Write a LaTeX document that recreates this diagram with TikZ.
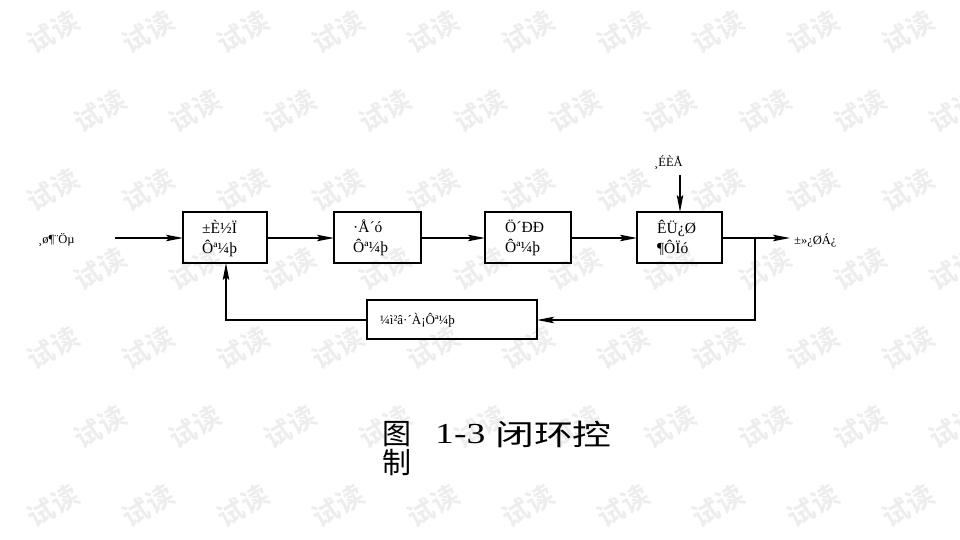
\documentclass[tikz,border=0pt]{standalone}
\usepackage{fontspec}
\setmainfont{Liberation Serif}
\newfontfamily\cjk{Noto Sans CJK SC}
\newfontfamily\cjkb{Noto Sans CJK SC Bold}
\usetikzlibrary{arrows.meta}
\tikzset{
  blk/.style={draw, line width=1.1pt, minimum height=51pt, inner sep=0pt, outer sep=0pt},
  lbl/.style={font=\fontsize{12.5}{15}\selectfont, align=left, inner sep=0pt, anchor=west},
  blbl/.style={font=\fontsize{15.5}{20}\selectfont, align=left, inner sep=0pt, anchor=west},
  wire/.style={line width=1.1pt},
  arr/.style={wire, -{Stealth[length=17pt,width=6.5pt,inset=3pt]}},
  wm/.style={font=\cjkb\fontsize{27}{27}\selectfont, text=black!7, rotate=30, inner sep=0pt},
  captxt/.style={anchor=west, inner sep=0pt, font=\fontsize{29}{29}\selectfont}
}
\begin{document}
\begin{tikzpicture}[x=1pt,y=-1pt]
\useasboundingbox (0,0) rectangle (960,540);
\fill[white] (0,0) rectangle (960,540);
% watermarks
\foreach \r in {0,2,4,6}{
  \foreach \c in {0,...,9}{
    \node[wm] (w\r\c) at ({53+95*\c},{32+79*\r}) {试读};
  }
}
\foreach \r in {1,3,5}{
  \foreach \c in {0,...,9}{
    \node[wm] (w\r\c) at ({100+95*\c},{32+79*\r}) {试读};
  }
}
% blocks
\node[blk, minimum width=84pt, anchor=north west] (b1) at (183,212) {};
\node[blk, minimum width=87pt, anchor=north west] (b2) at (334,212) {};
\node[blk, minimum width=86pt, anchor=north west] (b3) at (485,212) {};
\node[blk, minimum width=85pt, anchor=north west] (b4) at (637,212) {};
\node[blk, minimum width=170pt, minimum height=39pt, anchor=north west] (fb) at (367,300) {};
% block texts
\node[blbl] (t1) at (202,238) {±È½Ï\\Ôª¼þ};
\node[blbl] (t2) at (353,238) {·Å´ó\\Ôª¼þ};
\node[blbl] (t3) at (505,238) {Ö´ÐÐ\\Ôª¼þ};
\node[blbl] (t4) at (657,238) {ÊÜ¿Ø\\¶ÔÏó};
\node[lbl, font=\fontsize{13}{15}\selectfont] (t5) at (380,320) {¼ì²â·´À¡Ôª¼þ};
% outside labels
\node[lbl] (in) at (38,240) {¸ø¶¨Öµ};
\node[lbl] (out) at (794,240) {±»¿ØÁ¿};
\node[lbl] (dist) at (654,162) {¸ÉÈÅ};
\coordinate (inS) at (115,238);
\coordinate (outE) at (790,238);
\coordinate (tap) at (755,238);
\coordinate (tapD) at (755,320);
\coordinate (fbL) at (226,320);
\coordinate (dS) at (680,175);
% connectors
\draw[arr] (inS) -- (b1.west |- inS);
\draw[arr] (b1.east |- inS) -- (b2.west |- inS);
\draw[arr] (b2.east |- inS) -- (b3.west |- inS);
\draw[arr] (b3.east |- inS) -- (b4.west |- inS);
\draw[arr] (b4.east |- inS) -- (outE);
\draw[arr] (dS) -- (b4.north -| dS);
\draw[arr] (tap) -- (tapD) -- (fb.east |- tapD);
\draw[arr] (fb.west |- fbL) -- (fbL) -- (b1.south -| fbL);
% caption
\node[captxt] (c1) at (382,434) {\cjk 图};
\node[captxt] (c2) at (435,434) {\scalebox{1.3}[1]{1-3}};
\node[captxt] (c3) at (495,434) {\scalebox{1.34}[1]{\cjk 闭环控}};
\node[captxt] (c4) at (382,463) {\cjk 制};
\end{tikzpicture}
\end{document}
